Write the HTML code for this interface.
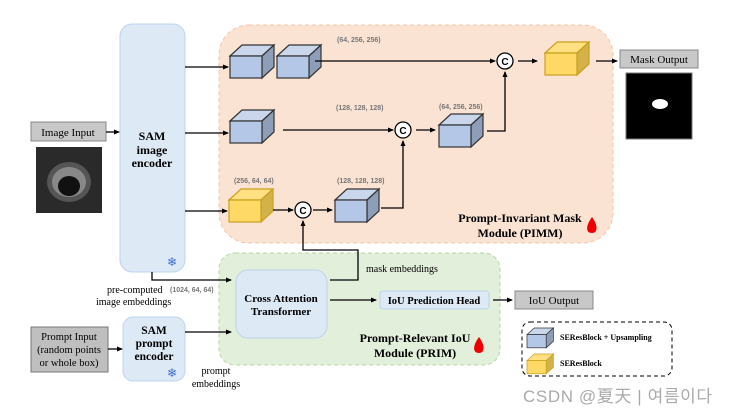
<!DOCTYPE html><html><head><meta charset="utf-8"><style>body{margin:0;background:#fff}svg{display:block}
.s{font-family:"Liberation Serif",serif}.b{font-weight:bold}.g{font-family:"Liberation Sans",sans-serif;font-size:7px;fill:#777;font-weight:bold}
line,polyline{stroke-width:1.3}</style></head><body>
<svg width="741" height="416" viewBox="0 0 741 416" xmlns="http://www.w3.org/2000/svg">
<defs>
<marker id="a" markerWidth="6" markerHeight="6" refX="5" refY="3" orient="auto" markerUnits="userSpaceOnUse"><path d="M0,0.5 L6,3 L0,5.5z" fill="#000"/></marker>
<g id="bc"><path d="M0,11 L12,0 L44,0 L32,11z" fill="#c9d6ec" stroke="#333" stroke-width="1.2"/><path d="M32,11 L44,0 L44,22 L32,33z" fill="#8e9db8" stroke="#333" stroke-width="1.2"/><rect x="0" y="11" width="32" height="22" fill="#b4c7e7" stroke="#333" stroke-width="1.2"/></g>
<g id="yc"><path d="M0,11 L12,0 L44,0 L32,11z" fill="#ffe083" stroke="#c9a01c" stroke-width="1.2"/><path d="M32,11 L44,0 L44,22 L32,33z" fill="#d4b24a" stroke="#c9a01c" stroke-width="1.2"/><rect x="0" y="11" width="32" height="22" fill="#ffd966" stroke="#c9a01c" stroke-width="1.2"/></g>
</defs>
<rect x="219" y="25" width="394" height="218" rx="30" fill="#fbe3d4" stroke="#f6c4a6" stroke-dasharray="4,3"/>
<rect x="219" y="253" width="281" height="112" rx="16" fill="#e2efda" stroke="#b9d6a5" stroke-dasharray="4,3"/>
<rect x="120" y="24" width="65" height="248" rx="12" fill="#dde9f5" stroke="#bcd4ec"/>
<text class="s b" font-size="12" text-anchor="middle" x="152" y="140">SAM</text>
<text class="s b" font-size="12" text-anchor="middle" x="152" y="154">image</text>
<text class="s b" font-size="12" text-anchor="middle" x="152" y="167">encoder</text>
<text x="172" y="266" font-size="12" fill="#3d6fcf" text-anchor="middle">❄</text>
<rect x="31" y="122" width="75" height="19" fill="#c8c8c8" stroke="#888"/>
<text class="s" font-size="11" x="68" y="136" text-anchor="middle">Image Input</text>
<line x1="106" y1="132" x2="119" y2="132" stroke="#000" marker-end="url(#a)"/>
<rect x="36" y="147" width="66" height="66" fill="#2a2a2a"/>
<ellipse cx="69" cy="182" rx="22" ry="20" fill="#555"/><ellipse cx="69" cy="182" rx="17" ry="15" fill="#888"/><ellipse cx="69" cy="186" rx="11" ry="10" fill="#111"/>
<line x1="185" y1="67" x2="228" y2="67" stroke="#000" marker-end="url(#a)"/>
<use href="#bc" x="230" y="45"/><use href="#bc" x="277" y="45"/>
<text class="g" x="337" y="42">(64, 256, 256)</text>
<line x1="315" y1="61" x2="495" y2="61" stroke="#000" marker-end="url(#a)"/>
<circle cx="505" cy="61" r="8" fill="#fff" stroke="#000" stroke-width="1.3"/><text x="505" y="65" font-family="Liberation Sans" font-size="10" font-weight="bold" text-anchor="middle">C</text>
<line x1="518" y1="61" x2="537" y2="61" stroke="#000" marker-end="url(#a)"/>
<use href="#yc" x="545" y="42"/>
<line x1="596" y1="61" x2="617" y2="61" stroke="#000" marker-end="url(#a)"/>
<rect x="620" y="50" width="78" height="18" fill="#c8c8c8" stroke="#888"/>
<text class="s" font-size="11" x="659" y="63" text-anchor="middle">Mask Output</text>
<rect x="626" y="73" width="66" height="66" fill="#000" stroke="#777"/>
<ellipse cx="660" cy="104" rx="8" ry="5" fill="#fff"/>
<line x1="185" y1="133" x2="228" y2="133" stroke="#000" marker-end="url(#a)"/>
<use href="#bc" x="230" y="110"/>
<text class="g" x="336" y="110">(128, 128, 128)</text>
<line x1="283" y1="130" x2="393" y2="130" stroke="#000" marker-end="url(#a)"/>
<circle cx="403" cy="130" r="8" fill="#fff" stroke="#000" stroke-width="1.3"/><text x="403" y="134" font-family="Liberation Sans" font-size="10" font-weight="bold" text-anchor="middle">C</text>
<line x1="416" y1="130" x2="435" y2="130" stroke="#000" marker-end="url(#a)"/>
<text class="g" x="439" y="109">(64, 256, 256)</text>
<use href="#bc" x="439" y="114"/>
<polyline points="487,131 505,131 505,72" fill="none" stroke="#000" marker-end="url(#a)"/>
<line x1="185" y1="211" x2="227" y2="211" stroke="#000" marker-end="url(#a)"/>
<text class="g" x="234" y="183">(256, 64, 64)</text>
<use href="#yc" x="229" y="189"/>
<line x1="273" y1="210" x2="293" y2="210" stroke="#000" marker-end="url(#a)"/>
<circle cx="303" cy="210" r="8" fill="#fff" stroke="#000" stroke-width="1.3"/><text x="303" y="214" font-family="Liberation Sans" font-size="10" font-weight="bold" text-anchor="middle">C</text>
<line x1="313" y1="210" x2="332" y2="210" stroke="#000" marker-end="url(#a)"/>
<text class="g" x="337" y="183">(128, 128, 128)</text>
<use href="#bc" x="335" y="189"/>
<polyline points="381,208 403,208 403,141" fill="none" stroke="#000" marker-end="url(#a)"/>
<polyline points="330,280 358,280 358,250 303,250 303,221" fill="none" stroke="#000" marker-end="url(#a)"/>
<text class="s" font-size="10" x="366" y="272">mask embeddings</text>
<text class="s b" font-size="12" x="520" y="222" text-anchor="middle">Prompt-Invariant Mask</text>
<text class="s b" font-size="12" x="520" y="237" text-anchor="middle">Module (PIMM)</text>
<path d="M592,217 C586,225 585,233 592,233 C598,233 598,225 592,217z" fill="#e00"/>
<polyline points="152,272 152,280 231,280" fill="none" stroke="#000" marker-end="url(#a)"/>
<text class="s" font-size="10" x="107" y="293">pre-computed</text><text class="g" x="170" y="292">(1024, 64, 64)</text>
<text class="s" font-size="10" x="96" y="305">image embeddings</text>
<rect x="236" y="270" width="91" height="68" rx="12" fill="#dde9f5" stroke="#bcd4ec"/>
<text class="s b" font-size="11" x="281" y="302" text-anchor="middle">Cross Attention</text>
<text class="s b" font-size="11" x="281" y="315" text-anchor="middle">Transformer</text>
<line x1="330" y1="300" x2="376" y2="300" stroke="#000" marker-end="url(#a)"/>
<rect x="380" y="291" width="109" height="18" rx="3" fill="#dde9f5" stroke="#bcd4ec"/>
<text class="s b" font-size="10.5" x="434" y="304" text-anchor="middle">IoU Prediction Head</text>
<line x1="493" y1="300" x2="512" y2="300" stroke="#000" marker-end="url(#a)"/>
<rect x="515" y="291" width="78" height="18" fill="#c8c8c8" stroke="#888"/>
<text class="s" font-size="11" x="554" y="304" text-anchor="middle">IoU Output</text>
<text class="s b" font-size="12" x="415" y="342" text-anchor="middle">Prompt-Relevant IoU</text>
<text class="s b" font-size="12" x="415" y="357" text-anchor="middle">Module (PRIM)</text>
<path d="M479,337 C473,345 472,353 479,353 C485,353 485,345 479,337z" fill="#e00"/>
<rect x="31" y="327" width="77" height="45" fill="#bfbfbf" stroke="#777"/>
<text class="s" font-size="10.5" x="69" y="340" text-anchor="middle">Prompt Input</text>
<text class="s" font-size="10.5" x="69" y="353" text-anchor="middle">(random points</text>
<text class="s" font-size="10.5" x="69" y="366" text-anchor="middle">or whole box)</text>
<line x1="108" y1="349" x2="122" y2="349" stroke="#000" marker-end="url(#a)"/>
<rect x="123" y="317" width="62" height="64" rx="10" fill="#dde9f5" stroke="#bcd4ec"/>
<text class="s b" font-size="11.5" x="154" y="334" text-anchor="middle">SAM</text>
<text class="s b" font-size="11.5" x="154" y="347" text-anchor="middle">prompt</text>
<text class="s b" font-size="11.5" x="154" y="360" text-anchor="middle">encoder</text>
<text x="172" y="377" font-size="12" fill="#3d6fcf" text-anchor="middle">❄</text>
<line x1="185" y1="332" x2="231" y2="332" stroke="#000" marker-end="url(#a)"/>
<text class="s" font-size="10" x="216" y="374" text-anchor="middle">prompt</text>
<text class="s" font-size="10" x="216" y="387" text-anchor="middle">embeddings</text>
<rect x="522" y="322" width="150" height="54" rx="8" fill="none" stroke="#000" stroke-dasharray="4,3"/>
<g transform="translate(527,328) scale(0.6)"><use href="#bc"/></g>
<text class="s b" font-size="8" x="560" y="340">SEResBlock + Upsampling</text>
<g transform="translate(527,354) scale(0.6)"><use href="#yc"/></g>
<text class="s b" font-size="8" x="560" y="366">SEResBlock</text>
<text x="523" y="402" font-family="Liberation Sans,'Noto Sans CJK SC',sans-serif" font-size="17" letter-spacing="0.6" fill="#aaa">CSDN @夏天 | 여름이다</text>
</svg>
</body></html>
